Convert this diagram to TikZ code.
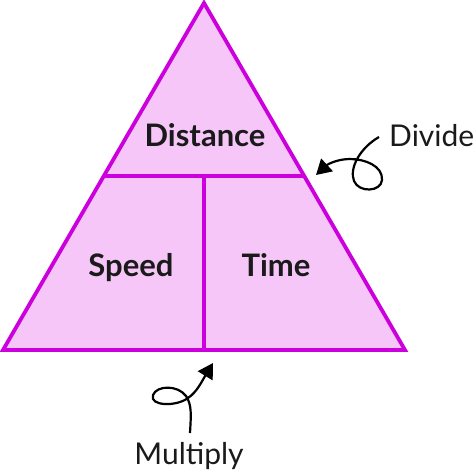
\documentclass[tikz,border=0pt]{standalone}
\usepackage{fontspec}
\setmainfont{Lato}
\usetikzlibrary{arrows.meta}
\definecolor{tline}{HTML}{CC00DD}
\definecolor{tfill}{HTML}{F5C6F7}
\definecolor{ink}{HTML}{1A1A1A}
\tikzset{
  edge/.style={draw=tline,line width=3.8pt,line join=miter},
  blab/.style={font=\fontsize{31}{33}\selectfont\bfseries,text=ink,anchor=base,inner sep=0pt},
  plab/.style={font=\fontsize{30}{32}\selectfont,text=ink,inner sep=0pt},
  curly/.style={draw=black,line width=2.2pt,-{Triangle[width=17pt,length=15pt]}}
}
\begin{document}
\begin{tikzpicture}[x=1pt,y=-1pt]
\useasboundingbox (0,0) rectangle (474,472);
\coordinate (apex) at (204,3);
\coordinate (bl) at (3,350);
\coordinate (br) at (405,350);
\coordinate (ml) at (103.5,176);
\coordinate (mr) at (304.5,176);
\coordinate (mm) at (204,176);
\coordinate (bm) at (204,350);
\fill[tfill] (apex) -- (br) -- (bl) -- cycle;
\draw[edge] (ml) -- (mr);
\draw[edge] (mm) -- (bm);
\draw[edge] (apex) -- (br) -- (bl) -- cycle;
\node[blab] (dist) at (205,146) {Distance};
\node[blab] (speed) at (131,276) {Speed};
\node[blab] (time) at (276,276) {Time};
\node[plab,anchor=base west] (divide) at (389,146) {Divide};
\node[plab,anchor=base] (mult) at (189,464) {Multiply};
\coordinate (dstart) at (379,137);
\coordinate (dtip) at (316,175);
\coordinate (mstart) at (190,433);
\coordinate (mtip) at (213,363);
\draw[curly] (dstart) .. controls (360,148) and (349,168) .. (354,181)
  .. controls (359,193) and (381,192) .. (382,180)
  .. controls (383,166) and (365,159) .. (350,159)
  .. controls (338,159) and (328,164) .. (dtip);
\draw[curly] (mstart) .. controls (191,415) and (192,405) .. (186,396)
  .. controls (178,385) and (157,385) .. (153,395)
  .. controls (149,406) and (176,407) .. (188,398)
  .. controls (197,392) and (202,381) .. (mtip);
\end{tikzpicture}
\end{document}
